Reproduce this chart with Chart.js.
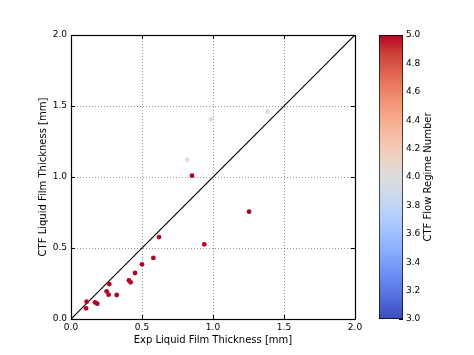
<!DOCTYPE html>
<html>
<head>
<meta charset="utf-8">
<script src="https://cdn.jsdelivr.net/npm/chart.js@4/dist/chart.umd.min.js"></script>
<style>
  html, body { margin: 0; padding: 0; background: #fff; }
  #wrap { position: relative; width: 474px; height: 355px; }
  #wrap canvas { position: absolute; left: 0; top: 0; }
</style>
</head>
<body>
<div id="wrap">
  <canvas id="main" width="474" height="355"></canvas>
  <canvas id="cbar" width="474" height="355"></canvas>
</div>
<script>
// ---- data ----
const expThickness = [0.106, 0.110, 0.169, 0.185, 0.251, 0.265, 0.270, 0.322, 0.408, 0.420,
                      0.451, 0.500, 0.580, 0.620, 0.852, 0.939, 1.254, 0.819, 0.986, 1.383];
const ctfThickness = [0.075, 0.122, 0.117, 0.108, 0.195, 0.171, 0.246, 0.169, 0.272, 0.258,
                      0.324, 0.385, 0.430, 0.577, 1.009, 0.526, 0.756, 1.120, 1.408, 1.460];
const flowRegime   = [5, 5, 5, 5, 5, 5, 5, 5, 5, 5,
                      5, 5, 5, 5, 5, 5, 5, 4, 4, 4];
const identityLine = [0, 2];
const axisTicks = [0.0, 0.5, 1.0, 1.5, 2.0];
const colorbarTicks = [3.0, 3.2, 3.4, 3.6, 3.8, 4.0, 4.2, 4.4, 4.6, 4.8, 5.0];
const regimeRange = [3, 5];

// coolwarm colormap stops
const coolwarmStops = [
  [59,76,192],[77,104,215],[98,130,234],[119,154,247],[141,176,254],[163,194,255],
  [184,208,249],[204,217,238],[221,221,221],[236,211,197],[245,196,173],[247,177,148],
  [244,154,123],[236,127,99],[222,96,77],[203,62,56],[180,4,38]
];
function coolwarm(t) {
  t = Math.max(0, Math.min(1, t));
  const n = coolwarmStops.length - 1;
  const f = t * n, i = Math.min(Math.floor(f), n - 1), r = f - i;
  const a = coolwarmStops[i], b = coolwarmStops[i + 1];
  const c = a.map((v, k) => Math.round(v + (b[k] - v) * r));
  return `rgb(${c[0]},${c[1]},${c[2]})`;
}
const regimeColor = v => coolwarm((v - regimeRange[0]) / (regimeRange[1] - regimeRange[0]));

Chart.defaults.font.family = '"DejaVu Sans", sans-serif';
Chart.defaults.color = '#000';

const FONT_TICK = { family: '"DejaVu Sans", sans-serif', size: 9 };
const FONT_TITLE = { family: '"DejaVu Sans", sans-serif', size: 10 };

// frame + inward ticks on all four sides (matplotlib classic style)
const framePlugin = {
  id: 'frame',
  afterDatasetsDraw(chart) {
    const { ctx, chartArea: a, scales: { x, y } } = chart;
    ctx.save();
    ctx.strokeStyle = '#000';
    ctx.lineWidth = 1;
    ctx.beginPath();
    axisTicks.forEach(v => {
      const px = Math.round(x.getPixelForValue(v)) + 0.5;
      ctx.moveTo(px, a.bottom); ctx.lineTo(px, a.bottom - 4);
      ctx.moveTo(px, a.top); ctx.lineTo(px, a.top + 4);
      const py = Math.round(y.getPixelForValue(v)) + 0.5;
      ctx.moveTo(a.left, py); ctx.lineTo(a.left + 4, py);
      ctx.moveTo(a.right, py); ctx.lineTo(a.right - 4, py);
    });
    ctx.stroke();
    ctx.lineWidth = 1.2;
    ctx.strokeRect(Math.round(a.left) + 0.5, Math.round(a.top) + 0.5,
                   Math.round(a.right - a.left), Math.round(a.bottom - a.top));
    ctx.restore();
  }
};

new Chart(document.getElementById('main'), {
  type: 'scatter',
  data: {
    datasets: [
      {
        data: expThickness.map((v, i) => ({ x: v, y: ctfThickness[i] })),
        backgroundColor: flowRegime.map(regimeColor),
        borderWidth: 0,
        pointRadius: 2.4,
        pointHoverRadius: 2.4
      },
      {
        type: 'line',
        data: identityLine.map(v => ({ x: v, y: v })),
        borderColor: '#000',
        borderWidth: 1.2,
        pointRadius: 0,
        fill: false
      }
    ]
  },
  options: {
    responsive: false,
    animation: false,
    events: [],
    layout: { padding: { left: 0, top: 35, right: 119, bottom: 0 } },
    plugins: { legend: { display: false }, tooltip: { enabled: false } },
    scales: {
      x: {
        type: 'linear', min: 0, max: 2,
        afterBuildTicks: s => { s.ticks = axisTicks.map(v => ({ value: v })); },
        afterFit: s => { s.height = 36; },
        ticks: { font: FONT_TICK, color: '#000', padding: 3, maxRotation: 0,
                 callback: v => Number(v).toFixed(1) },
        grid: { color: 'rgba(0,0,0,0.4)', lineWidth: 1, drawTicks: false },
        border: { display: false, dash: [1, 2] },
        title: { display: true, text: 'Exp Liquid Film Thickness [mm]', font: FONT_TITLE,
                 color: '#000', padding: { top: 0, bottom: 9 } }
      },
      y: {
        type: 'linear', min: 0, max: 2,
        afterBuildTicks: s => { s.ticks = axisTicks.map(v => ({ value: v })); },
        afterFit: s => { s.width = 71; },
        ticks: { font: FONT_TICK, color: '#000', padding: 4,
                 callback: v => Number(v).toFixed(1) },
        grid: { color: 'rgba(0,0,0,0.4)', lineWidth: 1, drawTicks: false },
        border: { display: false, dash: [1, 2] },
        title: { display: true, text: 'CTF Liquid Film Thickness [mm]', font: FONT_TITLE,
                 color: '#000', padding: { top: 37, bottom: 0 } }
      }
    }
  },
  plugins: [framePlugin]
});

// ---- colorbar ----
const cbTitlePlugin = {
  id: 'cbTitle',
  afterDraw(chart) {
    const { ctx, chartArea: a } = chart;
    ctx.save();
    ctx.translate(428, (a.top + a.bottom) / 2);
    ctx.rotate(-Math.PI / 2);
    ctx.font = '10px "DejaVu Sans", sans-serif';
    ctx.fillStyle = '#000';
    ctx.textAlign = 'center';
    ctx.textBaseline = 'middle';
    ctx.fillText('CTF Flow Regime Number', 0, 0);
    ctx.restore();
  }
};

new Chart(document.getElementById('cbar'), {
  type: 'bar',
  data: {
    labels: ['regime'],
    datasets: [{
      data: [regimeRange],
      backgroundColor: (c) => {
        const chart = c.chart;
        if (!chart.chartArea) return '#dddddd';
        const ys = chart.scales.y;
        const g = chart.ctx.createLinearGradient(0, ys.getPixelForValue(regimeRange[0]), 0, ys.getPixelForValue(regimeRange[1]));
        const n = coolwarmStops.length - 1;
        coolwarmStops.forEach((s, i) => g.addColorStop(i / n, `rgb(${s[0]},${s[1]},${s[2]})`));
        return g;
      },
      borderColor: '#000',
      borderWidth: 1,
      borderSkipped: false,
      barPercentage: 1,
      categoryPercentage: 1
    }]
  },
  options: {
    responsive: false,
    animation: false,
    events: [],
    layout: { padding: { left: 379, top: 35, right: 31, bottom: 36 } },
    plugins: { legend: { display: false }, tooltip: { enabled: false } },
    scales: {
      x: { display: false },
      y: {
        position: 'right',
        min: regimeRange[0], max: regimeRange[1],
        afterBuildTicks: s => { s.ticks = colorbarTicks.map(v => ({ value: v })); },
        afterFit: s => { s.width = 40; },
        ticks: { font: FONT_TICK, color: '#000', padding: 7,
                 callback: v => Number(v).toFixed(1) },
        grid: { drawOnChartArea: false, drawTicks: true, tickLength: -4,
                tickColor: '#000', tickWidth: 1 },
        border: { display: false }
      }
    }
  },
  plugins: [cbTitlePlugin]
});
</script>
</body>
</html>
